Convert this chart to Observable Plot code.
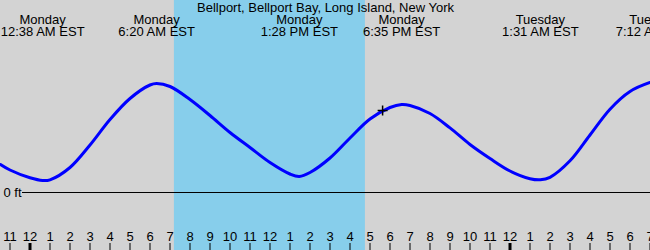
<!DOCTYPE html>
<html>
<head>
<meta charset="utf-8">
<script src="https://cdn.jsdelivr.net/npm/d3@7"></script>
<script src="https://cdn.jsdelivr.net/npm/@observablehq/plot@0.6"></script>
<style>
  html, body { margin: 0; padding: 0; background: #fff; }
  #chart svg { display: block; }
</style>
</head>
<body>
<div id="chart"></div>
<script>
// Hours measured from Monday 12:00 AM EST
const title = "Bellport, Bellport Bay, Long Island, New York";

const tideHours = [-1.475, -1, 0, 0.633, 1, 2, 3, 4, 5, 6, 6.333, 7, 8, 9, 10, 11, 12, 13, 13.467, 14, 15, 16, 17, 18, 18.583, 19, 20, 21, 22, 23, 24, 25, 25.517, 26, 27, 28, 29, 30, 31, 31.2];
const tideFeet  = [0.28, 0.225, 0.147, 0.12, 0.127, 0.25, 0.475, 0.73, 0.94, 1.075, 1.09, 1.06, 0.93, 0.77, 0.60, 0.45, 0.30, 0.185, 0.16, 0.20, 0.345, 0.545, 0.735, 0.85, 0.88, 0.87, 0.79, 0.646, 0.48, 0.34, 0.215, 0.138, 0.127, 0.152, 0.317, 0.575, 0.833, 1.01, 1.10, 1.11];

const extremeHours = [0.633, 6.333, 13.467, 18.583, 25.517, 31.2];
const extremeDays  = ["Monday", "Monday", "Monday", "Monday", "Tuesday", "Tuesday"];
const extremeTimes = ["12:38 AM EST", "6:20 AM EST", "1:28 PM EST", "6:35 PM EST", "1:31 AM EST", "7:12 AM EST"];

const sunriseHour = 7.22;
const sunsetHour = 16.77;

const nowHour = 17.63;
const nowFeet = 0.82;

const hourTicks = d3.range(-1, 32);
const midnightTicks = [0, 24];
const hourLabel = h => String(((h % 12) + 12) % 12 || 12);

const tide = tideHours.map((h, i) => ({hour: h, feet: tideFeet[i]}));
const extremes = extremeHours.map((h, i) => ({hour: h, day: extremeDays[i], time: extremeTimes[i]}));
const daylight = [{start: sunriseHour, end: sunsetHour}];

const font = "'Liberation Sans', Arial, Helvetica, sans-serif";

const chart = Plot.plot({
  width: 650,
  height: 250,
  margin: 0,
  style: {fontFamily: font, fontSize: "13px", background: "#d3d3d3", color: "black"},
  x: {domain: [-1.475, 31.025], axis: null},
  y: {domain: [-0.58, 1.92], axis: null},
  marks: [
    Plot.rect(daylight, {x1: "start", x2: "end", fill: "#87ceeb"}),
    Plot.ruleY([0], {stroke: "black", strokeWidth: 1, insetLeft: 22}),
    Plot.text([0], {y: d => d, text: () => "0 ft", frameAnchor: "left", textAnchor: "start", dx: 3, fontSize: 13}),
    Plot.line(tide, {x: "hour", y: "feet", stroke: "#0000ff", strokeWidth: 3, curve: "catmull-rom"}),
    Plot.dot([{hour: nowHour, feet: nowFeet}], {x: "hour", y: "feet", symbol: "plus", r: 3.3, stroke: "black", strokeWidth: 1.5}),
    Plot.ruleX(hourTicks.filter(h => !midnightTicks.includes(h)), {x: d => d, stroke: "black", strokeWidth: 1, insetTop: 243}),
    Plot.ruleX(midnightTicks, {x: d => d, stroke: "black", strokeWidth: 3, insetTop: 243}),
    Plot.text(hourTicks, {x: d => d, text: hourLabel, frameAnchor: "bottom", lineAnchor: "bottom", dy: -10, fontSize: 13}),
    Plot.text([title], {text: d => d, frameAnchor: "top", lineAnchor: "top", dy: 2, fontSize: 13}),
    Plot.text(extremes, {x: "hour", text: d => d.day + "\n" + d.time, frameAnchor: "top", lineAnchor: "top", dy: 15, lineHeight: 0.92, fontSize: 13})
  ]
});
document.getElementById("chart").appendChild(chart);
</script>
</body>
</html>
